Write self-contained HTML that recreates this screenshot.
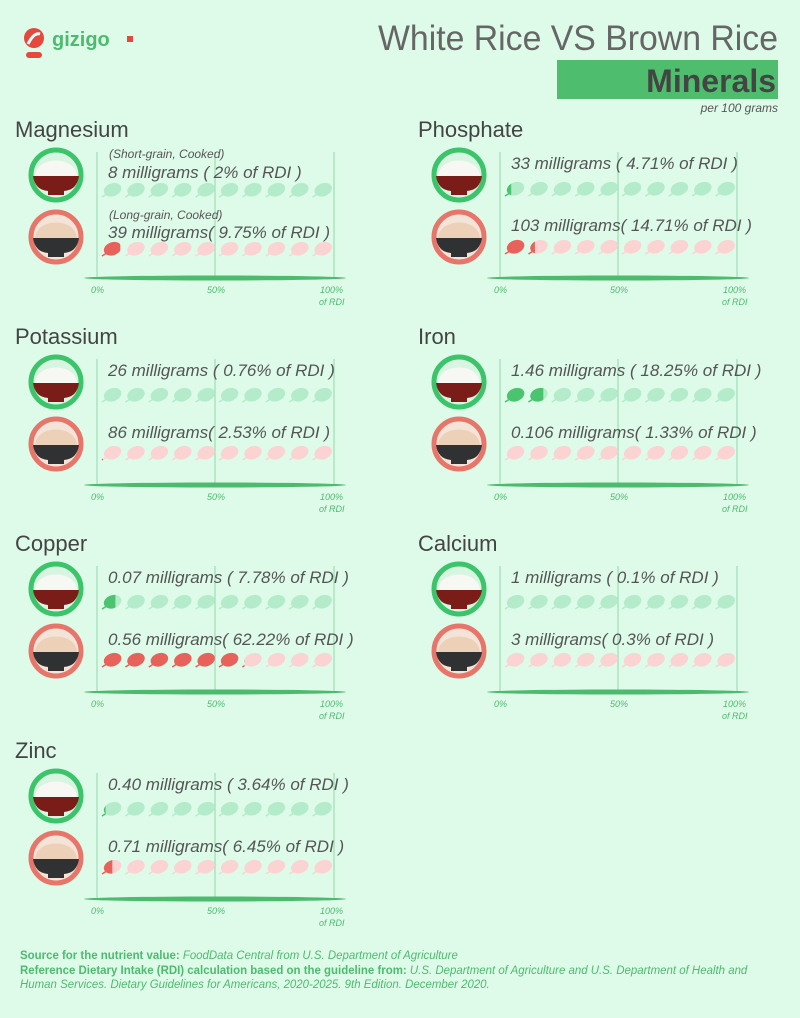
<!DOCTYPE html>
<html><head><meta charset="utf-8">
<style>
html,body{margin:0;padding:0;background:#defbe9;}
svg{display:block;font-family:"Liberation Sans",sans-serif;}
.t{font-size:22px;fill:#444;}
.v{font-size:17px;fill:#555;font-style:italic;}
.s{font-size:12px;fill:#555;font-style:italic;}
.k{font-size:9px;fill:#4dbb6e;font-style:italic;}
</style></head><body>
<svg width="800" height="1018" viewBox="0 0 800 1018" xmlns="http://www.w3.org/2000/svg">
<defs>
  <g id="leaf"><path d="M-10,6 L-2,1" stroke-width="1.5" stroke="inherit"/><ellipse cx="1" cy="-1" rx="8.5" ry="6" transform="rotate(-20)"/></g>
  <g id="rowLG" fill="#b4eccb" stroke="#b4eccb">
    <use href="#leaf" x="15" y="0"/><use href="#leaf" x="38.4" y="0"/><use href="#leaf" x="61.8" y="0"/><use href="#leaf" x="85.2" y="0"/><use href="#leaf" x="108.6" y="0"/><use href="#leaf" x="132" y="0"/><use href="#leaf" x="155.4" y="0"/><use href="#leaf" x="178.8" y="0"/><use href="#leaf" x="202.2" y="0"/><use href="#leaf" x="225.6" y="0"/>
  </g>
  <g id="rowLR" fill="#fbd3d3" stroke="#fbd3d3">
    <use href="#leaf" x="15" y="0"/><use href="#leaf" x="38.4" y="0"/><use href="#leaf" x="61.8" y="0"/><use href="#leaf" x="85.2" y="0"/><use href="#leaf" x="108.6" y="0"/><use href="#leaf" x="132" y="0"/><use href="#leaf" x="155.4" y="0"/><use href="#leaf" x="178.8" y="0"/><use href="#leaf" x="202.2" y="0"/><use href="#leaf" x="225.6" y="0"/>
  </g>
  <g id="rowDG" fill="#4cc46f" stroke="#4cc46f">
    <use href="#leaf" x="15" y="10"/><use href="#leaf" x="38.4" y="10"/><use href="#leaf" x="61.8" y="10"/><use href="#leaf" x="85.2" y="10"/><use href="#leaf" x="108.6" y="10"/><use href="#leaf" x="132" y="10"/><use href="#leaf" x="155.4" y="10"/><use href="#leaf" x="178.8" y="10"/><use href="#leaf" x="202.2" y="10"/><use href="#leaf" x="225.6" y="10"/>
  </g>
  <g id="rowDR" fill="#e8625c" stroke="#e8625c">
    <use href="#leaf" x="15" y="10"/><use href="#leaf" x="38.4" y="10"/><use href="#leaf" x="61.8" y="10"/><use href="#leaf" x="85.2" y="10"/><use href="#leaf" x="108.6" y="10"/><use href="#leaf" x="132" y="10"/><use href="#leaf" x="155.4" y="10"/><use href="#leaf" x="178.8" y="10"/><use href="#leaf" x="202.2" y="10"/><use href="#leaf" x="225.6" y="10"/>
  </g>
  <g id="bowlW">
    <circle r="25" fill="#d8f5e2" stroke="#3cc46a" stroke-width="5"/>
    <path d="M-21,2 C-21,-20 21,-20 21,2 Z" fill="#f7f7f4"/>
    <path d="M-23,1 H23 Q21,15 8,16 H-8 Q-21,15 -23,1Z" fill="#7a1d18"/>
    <rect x="-8" y="15" width="16" height="5" fill="#7a1d18"/>
  </g>
  <g id="bowlB">
    <circle r="25" fill="#f4e4d8" stroke="#e8756a" stroke-width="5"/>
    <path d="M-21,2 C-21,-20 21,-20 21,2 Z" fill="#ecd0b8"/>
    <path d="M-23,1 H23 Q21,15 8,16 H-8 Q-21,15 -23,1Z" fill="#2f3133"/>
    <rect x="-8" y="15" width="16" height="5" fill="#2f3133"/>
  </g>
  <g id="frame">
    <use href="#bowlW" x="56" y="65"/>
    <use href="#bowlB" x="56" y="127"/>
    <g stroke="#8fd9a6" stroke-width="1"><line x1="97" y1="42" x2="97" y2="168"/><line x1="215" y1="42" x2="215" y2="168"/><line x1="334" y1="42" x2="334" y2="168"/></g>
    <ellipse cx="215" cy="168" rx="131" ry="2.5" fill="#4dbb6e"/>
    <text class="k" x="91" y="183">0%</text>
    <text class="k" x="207" y="183">50%</text>
    <text class="k" x="320" y="183">100%</text>
    <text class="k" x="319" y="195">of RDI</text>
  </g>
</defs>

<!-- header -->
<circle cx="34" cy="38" r="10" fill="#e5493d"/>
<path d="M28,44 Q34,32 40,34" stroke="#fff" stroke-width="3" fill="none"/>
<rect x="26" y="52" width="16" height="6" rx="3" fill="#e5493d"/>
<text x="52" y="46" font-size="20" font-weight="bold" fill="#4dbb6e">gizigo</text>
<rect x="127" y="36" width="6" height="6" fill="#e5493d"/>
<text x="778" y="50" text-anchor="end" font-size="35" fill="#666" textLength="400" lengthAdjust="spacingAndGlyphs">White Rice VS Brown Rice</text>
<rect x="557" y="60" width="221" height="39" fill="#4fbd6e"/>
<text x="776" y="92" text-anchor="end" font-size="32" font-weight="bold" fill="#444">Minerals</text>
<text x="778" y="112" text-anchor="end" font-size="12" font-style="italic" fill="#555">per 100 grams</text>

<!-- Magnesium -->
<g transform="translate(0,110)">
  <text class="t" x="15" y="27">Magnesium</text>
  <use href="#frame"/>
  <text class="s" x="109" y="48">(Short-grain, Cooked)</text>
  <text class="v" x="108" y="68">8 milligrams ( 2% of RDI )</text>
  <use href="#rowLG" x="97" y="81"/>
  <svg x="97" y="71" width="4.7" height="20" overflow="hidden"><use href="#rowDG"/></svg>
  <text class="s" x="109" y="109">(Long-grain, Cooked)</text>
  <text class="v" x="108" y="128">39 milligrams( 9.75% of RDI )</text>
  <use href="#rowLR" x="97" y="140"/>
  <svg x="97" y="130" width="23.1" height="20" overflow="hidden"><use href="#rowDR"/></svg>
</g>
<!-- Phosphate -->
<g transform="translate(403,110)">
  <text class="t" x="15" y="27">Phosphate</text>
  <use href="#frame"/>
  <text class="v" x="108" y="59">33 milligrams ( 4.71% of RDI )</text>
  <use href="#rowLG" x="97" y="80"/>
  <svg x="97" y="70" width="11.2" height="20" overflow="hidden"><use href="#rowDG"/></svg>
  <text class="v" x="108" y="121">103 milligrams( 14.71% of RDI )</text>
  <use href="#rowLR" x="97" y="138"/>
  <svg x="97" y="128" width="34.9" height="20" overflow="hidden"><use href="#rowDR"/></svg>
</g>
<!-- Potassium -->
<g transform="translate(0,317)">
  <text class="t" x="15" y="27">Potassium</text>
  <use href="#frame"/>
  <text class="v" x="108" y="59">26 milligrams ( 0.76% of RDI )</text>
  <use href="#rowLG" x="97" y="79"/>
  <svg x="97" y="69" width="1.8" height="20" overflow="hidden"><use href="#rowDG"/></svg>
  <text class="v" x="108" y="121">86 milligrams( 2.53% of RDI )</text>
  <use href="#rowLR" x="97" y="137"/>
  <svg x="97" y="127" width="6" height="20" overflow="hidden"><use href="#rowDR"/></svg>
</g>
<!-- Iron -->
<g transform="translate(403,317)">
  <text class="t" x="15" y="27">Iron</text>
  <use href="#frame"/>
  <text class="v" x="108" y="59">1.46 milligrams ( 18.25% of RDI )</text>
  <use href="#rowLG" x="97" y="79"/>
  <svg x="97" y="69" width="43.3" height="20" overflow="hidden"><use href="#rowDG"/></svg>
  <text class="v" x="108" y="121">0.106 milligrams( 1.33% of RDI )</text>
  <use href="#rowLR" x="97" y="137"/>
  <svg x="97" y="127" width="3.2" height="20" overflow="hidden"><use href="#rowDR"/></svg>
</g>
<!-- Copper -->
<g transform="translate(0,524)">
  <text class="t" x="15" y="27">Copper</text>
  <use href="#frame"/>
  <text class="v" x="108" y="59">0.07 milligrams ( 7.78% of RDI )</text>
  <use href="#rowLG" x="97" y="79"/>
  <svg x="97" y="69" width="18.4" height="20" overflow="hidden"><use href="#rowDG"/></svg>
  <text class="v" x="108" y="121">0.56 milligrams( 62.22% of RDI )</text>
  <use href="#rowLR" x="97" y="137"/>
  <svg x="97" y="127" width="147.5" height="20" overflow="hidden"><use href="#rowDR"/></svg>
</g>
<!-- Calcium -->
<g transform="translate(403,524)">
  <text class="t" x="15" y="27">Calcium</text>
  <use href="#frame"/>
  <text class="v" x="108" y="59">1 milligrams ( 0.1% of RDI )</text>
  <use href="#rowLG" x="97" y="79"/>
  <text class="v" x="108" y="121">3 milligrams( 0.3% of RDI )</text>
  <use href="#rowLR" x="97" y="137"/>
</g>
<!-- Zinc -->
<g transform="translate(0,731)">
  <text class="t" x="15" y="27">Zinc</text>
  <use href="#frame"/>
  <text class="v" x="108" y="59">0.40 milligrams ( 3.64% of RDI )</text>
  <use href="#rowLG" x="97" y="79"/>
  <svg x="97" y="69" width="8.6" height="20" overflow="hidden"><use href="#rowDG"/></svg>
  <text class="v" x="108" y="121">0.71 milligrams( 6.45% of RDI )</text>
  <use href="#rowLR" x="97" y="137"/>
  <svg x="97" y="127" width="15.3" height="20" overflow="hidden"><use href="#rowDR"/></svg>
</g>

<!-- footer -->
<g font-size="12" fill="#4dbb6e" transform="translate(20,0) scale(0.955,1)">
  <text x="0" y="959"><tspan font-weight="bold">Source for the nutrient value: </tspan><tspan font-style="italic">FoodData Central from U.S. Department of Agriculture</tspan></text>
  <text x="0" y="974"><tspan font-weight="bold">Reference Dietary Intake (RDI) calculation based on the guideline from: </tspan><tspan font-style="italic">U.S. Department of Agriculture and U.S. Department of Health and</tspan></text>
  <text x="0" y="988" font-style="italic">Human Services. Dietary Guidelines for Americans, 2020-2025. 9th Edition. December 2020.</text>
</g>
</svg>
</body></html>
